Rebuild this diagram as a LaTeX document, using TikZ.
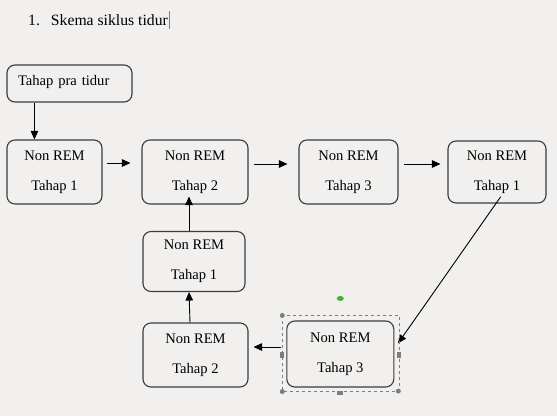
\documentclass[tikz,border=0pt]{standalone}
\usepackage{fontspec}
\setmainfont{Liberation Serif}
\usetikzlibrary{arrows.meta}
\definecolor{pagecol}{RGB}{241, 240, 239}
\definecolor{edgecol}{RGB}{60, 60, 60}
\definecolor{handcol}{RGB}{125, 125, 125}
\definecolor{rotcol}{RGB}{70, 175, 60}
\tikzset{
  stage/.style={draw=edgecol, line width=1.1pt, rounded corners=8pt, minimum width=100pt,
                minimum height=64pt, inner sep=0pt, align=center,
                font=\fontsize{14.6}{30}\selectfont},
  flow/.style={-{Triangle[length=8.5pt, width=7.5pt]}, line width=0.9pt},
  handle/.style={fill=handcol, draw=none},
}

\begin{document}
\begin{tikzpicture}[x=1pt, y=-1pt]
  \fill[pagecol] (0,0) rectangle (557,416);
  \useasboundingbox (0,0) rectangle (557,416);

  \node[anchor=base west, inner sep=0pt, font=\fontsize{15.7}{18}\selectfont] (title) at (28,25)
    {1.\hspace{11pt}Skema siklus tidur};
  \draw[handcol, line width=0.6pt] ([xshift=1.5pt, yshift=-4pt]title.base east) -- ++(0,-18);

  \node[stage, minimum width=125pt, minimum height=37pt, text width=103pt, align=left,
        text height=12pt, text depth=8pt, font=\fontsize{14.6}{17}\selectfont]
        (pra) at (69.5,83.5) {Tahap pra tidur};
  \node[stage, minimum width=95pt]                     (s1) at (54.5,172) {Non REM\\Tahap 1};
  \node[stage, minimum width=106pt]                    (s2) at (195,172)  {Non REM\\Tahap 2};
  \node[stage, minimum width=99pt]                     (s3) at (348.5,172) {Non REM\\Tahap 3};
  \node[stage, minimum width=98pt, minimum height=62pt] (s4) at (497,172)  {Non REM\\Tahap 1};
  \node[stage, minimum width=107pt, minimum height=66pt] (s5) at (340.3,354) {Non REM\\Tahap 3};
  \node[stage, minimum width=105pt]                    (s6) at (195.5,355) {Non REM\\Tahap 2};
  \node[stage, minimum width=102pt, minimum height=60pt] (s7) at (194,261.5) {Non REM\\Tahap 1};

  \draw[flow] ([xshift=28pt]pra.south west) -- ([xshift=28pt]s1.north west);
  \draw[flow, shorten <=4pt, shorten >=11pt] ([yshift=9pt]s1.east) -- ([yshift=9pt]s2.west);
  \draw[flow, shorten <=5pt, shorten >=11pt] ([yshift=8pt]s2.east) -- ([yshift=8pt]s3.west);
  \draw[flow, shorten <=5pt, shorten >=7pt]  ([yshift=8pt]s3.east) -- ([yshift=8pt]s4.west);
  \draw[flow] ([shift={(3.7,24.7)}]s4.center) -- ([shift={(3.7,-10.7)}]s5.east);
  \draw[flow, shorten <=5pt, shorten >=5pt]  ([yshift=7pt]s5.west) -- ([yshift=8pt]s6.east);
  \draw[flow] ([xshift=-5.5pt]s6.north) -- ([xshift=-5pt]s7.south);
  \draw[flow, shorten >=-8pt] ([xshift=-5pt]s7.north) -- ([xshift=-6pt]s2.south);

  % selection frame round the last box
  \draw[handcol, dashed, line width=0.6pt] ([shift={(-4,-5)}]s5.north west) rectangle ([shift={(4.5,4)}]s5.south east);
  \fill[handle] ([shift={(-4,-5)}]s5.north west) circle (2.5);
  \fill[handle] ([shift={(-4,4)}]s5.south west) circle (2.5);
  \fill[handle] ([shift={(4,3.5)}]s5.south east) circle (2.5);
  \fill[handle] ([shift={(-4,1)}]s5.west) ++(-2,-3) rectangle ++(4,6);
  \fill[handle] ([shift={(4.5,1)}]s5.east) ++(-2,-3) rectangle ++(4,6);
  \fill[handle] ([yshift=-5pt]s5.south) ++(-3,-2) rectangle ++(6,4);
  \fill[rotcol] ([yshift=22pt]s5.north) ellipse (3.5 and 2.5);
\end{tikzpicture}
\end{document}
